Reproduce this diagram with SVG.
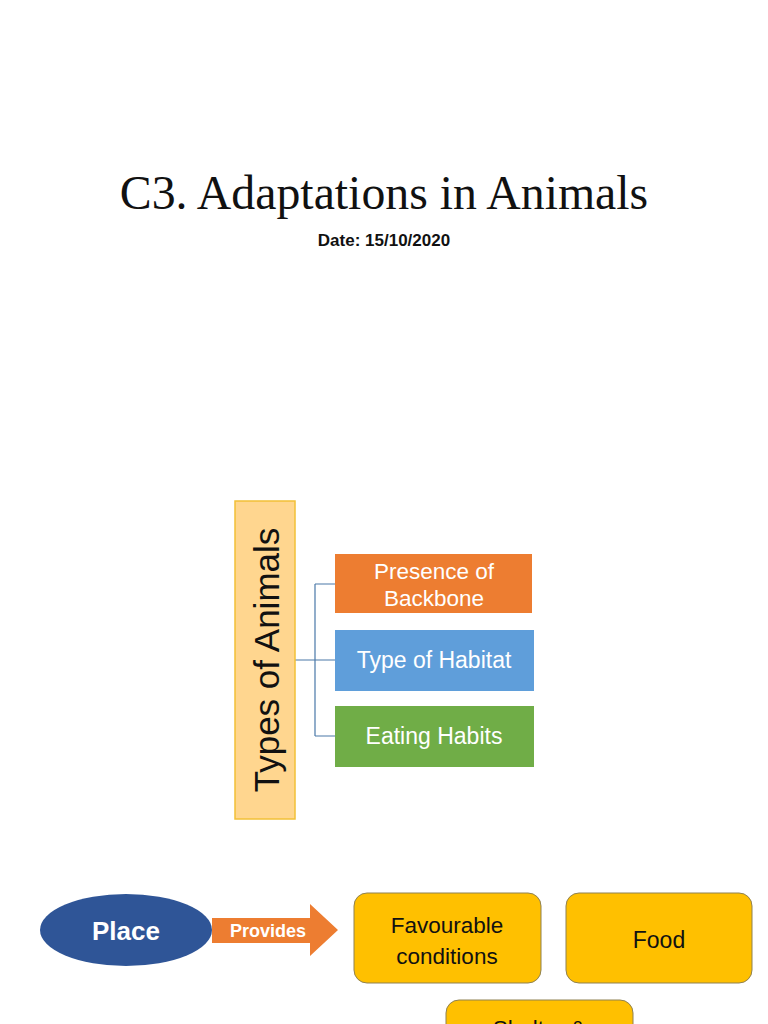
<svg xmlns="http://www.w3.org/2000/svg" width="768" height="1024" viewBox="0 0 768 1024">
<defs>
<style>
.t{font-family:"Liberation Sans",Arial,sans-serif;text-anchor:middle}
.w{fill:#ffffff}
.k{fill:#111111}
.conn{stroke:#4a78a8;stroke-width:1.2;fill:none}
.yb{fill:#FFC000;stroke:#8f8150;stroke-width:1}
</style>
</defs>
<rect width="768" height="1024" fill="#ffffff"/>
<g id="title">
<text x="384" y="209" font-family="'Liberation Serif','Times New Roman',serif" font-size="47.8" text-anchor="middle" fill="#111">C3. Adaptations in Animals</text>
<text x="384" y="246" class="t k" font-size="17" style="font-weight:600">Date: 15/10/2020</text>
</g>
<g id="connectors">
<path class="conn" d="M295 660 H315 M315 584 V736 M315 584 H335 M315 660 H335 M315 736 H335"/>
</g>
<g id="types">
<rect x="235" y="501" width="60" height="318" fill="#FFD68F" stroke="#F2C037" stroke-width="1.5"/>
<text transform="translate(279 660) rotate(-90)" class="t k" font-size="35">Types of Animals</text>
</g>
<g id="backbone">
<rect x="335" y="554" width="197" height="59" fill="#ED7D31"/>
<text x="434" y="579" class="t w" font-size="22.5">Presence of</text>
<text x="434" y="606" class="t w" font-size="22.5">Backbone</text>
</g>
<g id="habitat">
<rect x="335" y="630" width="199" height="61" fill="#5F9EDA"/>
<text x="434" y="668" class="t w" font-size="23">Type of Habitat</text>
</g>
<g id="eating">
<rect x="335" y="706" width="199" height="61" fill="#70AD47"/>
<text x="434" y="744" class="t w" font-size="23">Eating Habits</text>
</g>
<g id="place">
<ellipse cx="126" cy="930" rx="86" ry="36" fill="#2F5597"/>
<text x="126" y="940" class="t w" font-size="26" font-weight="bold">Place</text>
</g>
<g id="provides">
<path d="M212 918 H310 V904 L338 930 L310 956 V943 H212 Z" fill="#ED7D31"/>
<text x="268" y="937" class="t w" font-size="18" font-weight="bold">Provides</text>
</g>
<g id="favourable">
<rect x="354" y="893" width="187" height="90" rx="13" class="yb"/>
<text x="447" y="933" class="t k" font-size="22.5">Favourable</text>
<text x="447" y="964" class="t k" font-size="22.5">conditions</text>
</g>
<g id="food">
<rect x="566" y="893" width="186" height="90" rx="13" class="yb"/>
<text x="659" y="948" class="t k" font-size="23">Food</text>
</g>
<g id="shelter">
<rect x="446" y="1000" width="187" height="90" rx="13" class="yb"/>
<text x="539" y="1036" class="t k" font-size="22.5">Shelter &amp;</text>
</g>
</svg>
